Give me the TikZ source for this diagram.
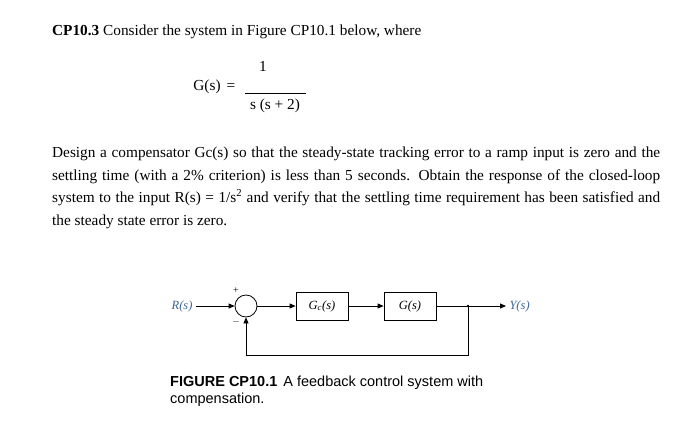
\documentclass[tikz,border=0pt]{standalone}
\usepackage{fontspec}
\setmainfont{Liberation Serif}
\setsansfont{Liberation Sans}
\usetikzlibrary{arrows.meta}
\begin{document}
\begin{tikzpicture}[x=1pt,y=-1pt,
  blk/.style={draw,line width=0.8pt,minimum width=52pt,minimum height=28pt,inner sep=0pt},
  sig/.style={line width=0.8pt,-{Triangle[length=6pt,width=5pt]}},
  lbl/.style={text=cyan!50!blue!70!black,font=\fontsize{12.5}{14}\selectfont\itshape},
  txt/.style={anchor=base west,inner sep=0pt,font=\fontsize{15.3}{17}\selectfont}]
\useasboundingbox[fill=white] (0,0) rectangle (700,447);
\node[txt] (t0) at (52,35) {\textbf{CP10.3} Consider the system in Figure CP10.1 below, where};
\node[txt,anchor=base] (gs) at (207,90) {G(s)};
\node[txt,anchor=base] (eq) at (231,90) {=};
\node[txt,anchor=base] (one) at (263,71) {1};
\node[txt,anchor=base] (den) at (275,109) {s (s + 2)};
\draw[line width=0.7pt] (245,93) -- (306,93);
\node[txt] (l1) at (52,157) {\makebox[608pt][s]{Design a compensator Gc(s) so that the steady-state tracking error to a ramp input is zero and the}};
\node[txt] (l2) at (52,180) {\makebox[608pt][s]{settling time (with a 2\% criterion) is less than 5 seconds. Obtain the response of the closed-loop}};
\node[txt] (l3) at (52,202) {\makebox[608pt][s]{system to the input R(s) = 1/s\textsuperscript{2} and verify that the settling time requirement has been satisfied and}};
\node[txt] (l4) at (52,225) {the steady state error is zero.};
% block diagram
\node[lbl,anchor=east] (R) at (196,306) {R(s)};
\node[draw,circle,line width=0.8pt,minimum size=22pt,inner sep=0pt] (sum) at (246,306) {};
\node[blk] (gc) at (322,306) {\fontsize{12.5}{14}\selectfont\itshape G\textsubscript{c}(s)};
\node[blk] (g) at (410,306) {\fontsize{12.5}{14}\selectfont\itshape G(s)};
\coordinate (br) at (468,306);
\coordinate (bot) at (468,355);
\coordinate (botl) at (246,355);
\node[lbl,anchor=west] (Y) at (506,306) {Y(s)};
\draw[sig] (R) -- (sum);
\draw[sig] (sum) -- (gc);
\draw[sig] (gc) -- (g);
\draw[sig] (g) -- (Y);
\draw[line width=0.8pt] (br) -- (bot) -- (botl);
\draw[sig] (botl) -- (sum);
\fill (br) circle (1.3pt);
\node[font=\fontsize{10}{10}\selectfont] (plus) at (236,291) {+};
\node[font=\fontsize{10}{10}\selectfont] (minus) at (236,322) {$-$};
\node[anchor=base west,inner sep=0pt,font=\sffamily\fontsize{14.5}{17}\selectfont] (cap1) at (170,386) {\textbf{FIGURE CP10.1}\hspace{6pt}A feedback control system with};
\node[anchor=base west,inner sep=0pt,font=\sffamily\fontsize{14.5}{17}\selectfont] (cap2) at (170,403) {compensation.};
\end{tikzpicture}
\end{document}
